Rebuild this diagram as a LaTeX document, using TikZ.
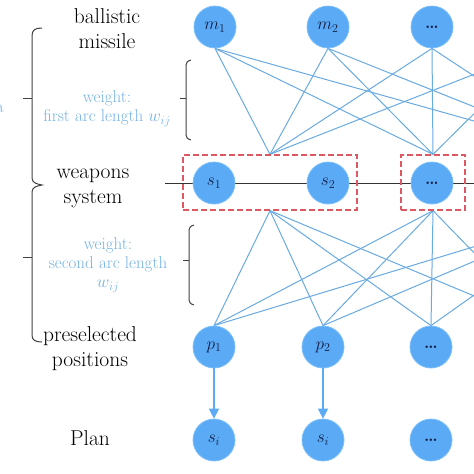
\documentclass[tikz,border=0pt]{standalone}
\usetikzlibrary{arrows.meta,backgrounds}
\definecolor{nodeblue}{RGB}{90,170,245}
\definecolor{nodeedge}{RGB}{125,192,250}
\definecolor{edgeblue}{RGB}{105,170,225}
\definecolor{labelblue}{RGB}{115,178,230}
\definecolor{boxred}{RGB}{222,88,98}
\definecolor{navy}{RGB}{20,30,70}
\begin{document}
\begin{tikzpicture}[x=1pt,y=-1pt,
  vertex/.style={circle, fill=nodeblue, draw=nodeedge, line width=0.8pt, minimum size=42pt, inner sep=0pt, text=navy, font=\fontsize{17}{17}\selectfont},
  conn/.style={draw=edgeblue, line width=1pt},
  dashbox/.style={draw=boxred, dash pattern=on 6pt off 3pt, line width=1.3pt, minimum height=55pt, inner sep=0pt},
  leftlabel/.style={align=center, font=\fontsize{21.5}{25}\selectfont, text=black, inner sep=0pt},
  weightlabel/.style={align=center, font=\fontsize{17}{19}\selectfont, text=labelblue, inner sep=0pt},
  bracepath/.style={draw=black!75, line width=1pt},
  arrowconn/.style={draw=nodeblue, line width=1.6pt, -{Triangle[width=10pt,length=10pt]}},
  sysline/.style={draw=black!80, line width=1pt}]
\useasboundingbox (0,0) rectangle (474,474);
\clip (0,0) rectangle (474,474);

% left labels
\node[leftlabel] (lbm) at (107,28.5) {ballistic\\missile};
\node[leftlabel] (lbs) at (93,188) {weapons\\system};
\node[leftlabel] (lbp) at (90,348.5) {preselected\\positions};
\node[leftlabel] (lbplan) at (90,438) {Plan};
\node[weightlabel] (w1) at (107,108.7) {weight:\\first arc length $w_{ij}$};
\node[weightlabel] (w2) at (108,265) {weight:\\second arc length\\$w_{ij}$};
\node[weightlabel, anchor=base east] (cuta) at (4,112) {a};

% braces
\draw[bracepath] (42,28) .. controls (35,28) and (32,30) .. (32,36) -- (32,178)
  .. controls (32,183) and (37,184) .. (42,185) .. controls (37,186) and (32,187) .. (32,192)
  -- (32,335) .. controls (32,340) and (35,342) .. (42,342);
\draw[bracepath] (23,98) -- (32,98);
\draw[bracepath] (23,257) -- (32,257);
\draw[bracepath] (191,60) .. controls (187,61) and (186,63) .. (186,67) -- (186,133)
  .. controls (186,137) and (187,139) .. (191,140);
\draw[bracepath] (180,98) -- (186,98);
\draw[bracepath] (194,225) .. controls (190,226) and (189,228) .. (189,232) -- (189,298)
  .. controls (189,302) and (190,304) .. (194,305);
\draw[bracepath] (183,260) -- (189,260);

% ballistic missiles
\node[vertex] (m1) at (215,27) {$m_1$};
\node[vertex] (m2) at (328,27) {$m_2$};
\node[vertex] (m3) at (432,27) {\textbf{\ldots}};
\node[vertex] (m4) at (540,27) {};

% weapons systems
\node[vertex] (s1) at (214,183) {$s_1$};
\node[vertex] (s2) at (328,183) {$s_2$};
\node[vertex] (s3) at (432,183) {\textbf{\ldots}};
\node[dashbox, minimum width=174pt] (B1) at (270,182.5) {};
\node[dashbox, minimum width=64pt] (B2) at (433,182.5) {};
\node[dashbox, minimum width=64pt] (B3) at (593,182.5) {};

% preselected positions
\node[vertex] (p1) at (214,347) {$p_1$};
\node[vertex] (p2) at (323,347) {$p_2$};
\node[vertex] (p3) at (431,347) {\textbf{\ldots}};
\node[vertex] (p4) at (545,347) {};

% plan
\node[vertex] (q1) at (214,440) {$s_i$};
\node[vertex] (q2) at (323,440) {$s_i$};
\node[vertex] (q3) at (431,440) {\textbf{\ldots}};

\coordinate (hl) at (165,183);
\coordinate (hr) at (480,183);

\begin{pgfonlayer}{background}
\draw[sysline] (hl) -- (hr);
\foreach \m in {m1,m2,m3,m4}
  \foreach \b in {B1,B2,B3}
    \draw[conn] (\m.south) -- (\b.north);
\foreach \b in {B1,B2,B3}
  \foreach \p in {p1,p2,p3,p4}
    \draw[conn] (\b.south) -- (\p.north);
\end{pgfonlayer}

\draw[arrowconn] (p1.south) -- (q1.north);
\draw[arrowconn] (p2.south) -- (q2.north);
\end{tikzpicture}
\end{document}
